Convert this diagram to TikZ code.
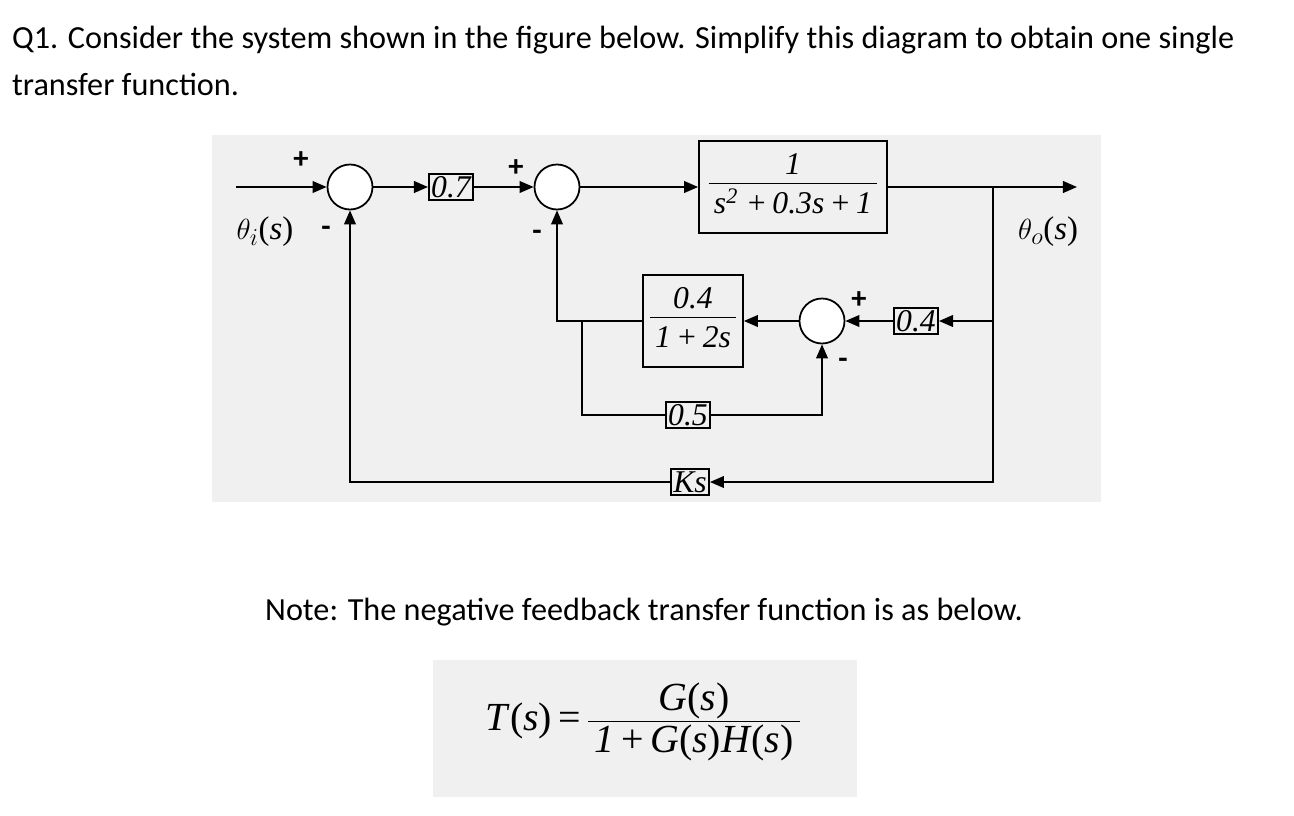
\documentclass[tikz,border=0pt]{standalone}
\usepackage{amsmath}
\usepackage{fontspec}
\setmainfont{Carlito}
\newfontfamily\tms{Liberation Serif}
\usetikzlibrary{arrows.meta,positioning,calc}
\definecolor{panel}{RGB}{240,240,240}
\newcommand{\frc}[2]{\begin{tabular}{@{\,}c@{\,}}#1\\[-2pt]\hline\rule{0pt}{26pt}#2\end{tabular}}
\tikzset{
    line/.style   = {-{Triangle[length=12pt,width=10pt]}, line width=1.5pt, draw=black},
    wire/.style   = {line width=1.5pt, draw=black},
    block/.style  = {draw=black, line width=1.5pt, fill=panel, inner sep=2pt,
            align=center, font=\fontsize{27}{30}\selectfont\tms\itshape},
    sum/.style    = {circle, draw=black, line width=1.5pt, fill=white,
            minimum size=1.35cm, inner sep=0pt},
    sign/.style   = {font=\fontsize{26}{26}\selectfont\bfseries},
}
\begin{document}
\begin{tikzpicture}[x=0.03cm,y=-0.03cm]
            \useasboundingbox (0,0) rectangle (1294,816);
            \fill[panel] (212,135) rectangle (1101,502);
            \fill[panel] (433,660) rectangle (857,797);
            % Text
            \node[anchor=north west, align=left, font=\fontsize{27.5}{40}\selectfont] (title) at (8,22)
                {Q1. Consider the system shown in the figure below. Simplify this diagram to obtain one single\\transfer function.};
            \node[font=\fontsize{27.5}{30}\selectfont] (note) at (644,612) {Note: The negative feedback transfer function is as below.};
            \node[font=\fontsize{34}{36}\selectfont\tms] (tf) at (643,723)
                {\textit{T}(\textit{s})\,=\,\frc{\textit{G}(\textit{s})}{\textit{1}\,+\,\textit{G}(\textit{s})\textit{H}(\textit{s})}};
            % Nodes
            \node[sum] (s1) at (350,187) {};
            \node[sum] (s2) at (557,187) {};
            \node[sum] (s3) at (822,321) {};
            \node[block] (k1) at (451,187) {0.7};
            \node[block, minimum width=5.64cm, minimum height=2.76cm] (G) at (793,187)
                {\frc{1}{s\textsuperscript{2} +\,0.3s\,+\,1}};
            \node[block, minimum width=3cm, minimum height=2.76cm] (H1) at (693,321)
                {\frc{0.4}{1\,+\,2s}};
            \node[block] (k2) at (916,321) {0.4};
            \node[block] (k3) at (688,415) {0.5};
            \node[block] (k4) at (690,482) {Ks};
            \node[font=\fontsize{28}{28}\selectfont\tms] (in) at (265,232) {$\theta_i$(\textit{s})};
            \node[font=\fontsize{28}{28}\selectfont\tms] (out) at (1048,232) {$\theta_o$(\textit{s})};
            \coordinate (start) at (236,187);
            \coordinate (tip) at (1077,187);
            \coordinate (br) at (993,187);
            \coordinate (br2) at (582,321);
            % Signs
            \node[sign] at (301,160) {+};
            \node[sign] at (326,231) {-};
            \node[sign] at (516,168) {+};
            \node[sign] at (537,235) {-};
            \node[sign] at (859,300) {+};
            \node[sign] at (843,363) {-};
            % Arrows
            \draw[line] (start) -- (s1);
            \draw[line] (s1) -- (k1);
            \draw[line] (k1) -- (s2);
            \draw[line] (s2) -- (G);
            \draw[line] (G) -- (tip);
            \draw[line] (br) |- (k2);
            \draw[line] (k2) -- (s3);
            \draw[line] (s3) -- (H1);
            \draw[line] (H1) -| (s2);
            \draw[wire] (br2) |- (k3);
            \draw[line] (k3) -| (s3);
            \draw[line] (br) |- (k4);
            \draw[line] (k4) -| (s1);
        \end{tikzpicture}
\end{document}
